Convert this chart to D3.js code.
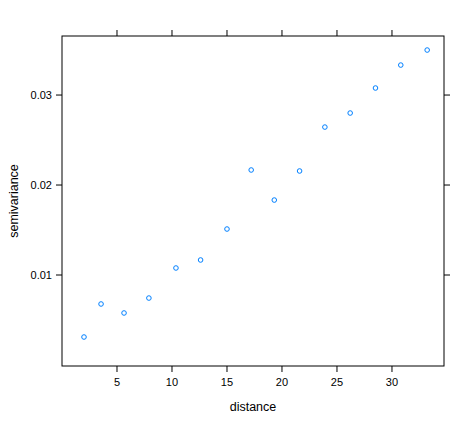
<!DOCTYPE html>
<html><head><meta charset="utf-8">
<script src="https://cdn.jsdelivr.net/npm/d3@7"></script>
<style>body{margin:0;background:#fff}svg{font-family:"Liberation Sans",Arial,sans-serif}</style>
</head><body>
<svg id="c" width="474" height="424"></svg>
<script>
const dist = [2.0,3.55,5.64,7.9,10.36,12.6,15.0,17.2,19.3,21.6,23.9,26.2,28.5,30.8,33.2];
const gamma = [0.00311,0.00678,0.00578,0.00744,0.01078,0.01167,0.01511,0.02167,0.01833,0.02156,0.02644,0.028,0.03078,0.03333,0.035];
const xTicks = [5,10,15,20,25,30];
const yTicks = [0.01,0.02,0.03];
const svg = d3.select("#c");
const L=62,R=444,T=36,B=366;
const x = d3.scaleLinear().domain([0,34.73]).range([L,R]);
const y = d3.scaleLinear().domain([0,0.03656]).range([B-1,T]);
svg.append("rect").attr("x",L).attr("y",T).attr("width",R-L).attr("height",B-T).attr("fill","none").attr("stroke","#000");
const g = svg.append("g").attr("font-size",11);
const tk=6;
xTicks.forEach(v=>{
  g.append("line").attr("x1",x(v)).attr("x2",x(v)).attr("y1",B).attr("y2",B+tk).attr("stroke","#000");
  g.append("line").attr("x1",x(v)).attr("x2",x(v)).attr("y1",T).attr("y2",T-tk).attr("stroke","#000");
  g.append("text").attr("x",x(v)).attr("y",B+20).attr("text-anchor","middle").text(v);
});
yTicks.forEach(v=>{
  g.append("line").attr("x1",L).attr("x2",L-tk).attr("y1",y(v)).attr("y2",y(v)).attr("stroke","#000");
  g.append("line").attr("x1",R).attr("x2",R+tk).attr("y1",y(v)).attr("y2",y(v)).attr("stroke","#000");
  g.append("text").attr("x",L-10).attr("y",y(v)+4).attr("text-anchor","end").text(v);
});
svg.append("text").attr("x",(L+R)/2).attr("y",411).attr("text-anchor","middle").attr("font-size",12.5).text("distance");
svg.append("text").attr("transform",`translate(18,${(T+B)/2}) rotate(-90)`).attr("text-anchor","middle").attr("font-size",12.5).text("semivariance");
svg.selectAll("circle").data(dist).join("circle")
  .attr("cx",(d)=>x(d)).attr("cy",(d,i)=>y(gamma[i])).attr("r",2.3)
  .attr("fill","none").attr("stroke","#0080ff").attr("stroke-width",1);
</script>
</body></html>
